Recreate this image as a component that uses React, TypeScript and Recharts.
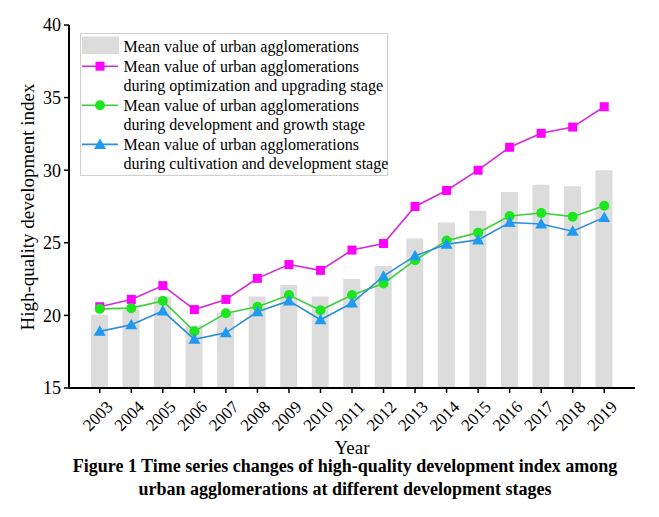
import React from 'react';
import { ComposedChart, Bar, Line, XAxis, YAxis } from 'recharts';

const years = ['2003', '2004', '2005', '2006', '2007', '2008', '2009', '2010', '2011', '2012', '2013', '2014', '2015', '2016', '2017', '2018', '2019'];
const meanAll = [20.05, 20.4, 21.3, 19.3, 20.2, 21.3, 22.1, 21.3, 22.5, 23.4, 25.3, 26.4, 27.2, 28.5, 29.0, 28.9, 30.0];
const optimization = [20.6, 21.1, 22.05, 20.4, 21.1, 22.55, 23.5, 23.1, 24.5, 24.95, 27.5, 28.6, 30.0, 31.58, 32.54, 32.97, 34.37];
const development = [20.45, 20.5, 21.0, 18.9, 20.15, 20.6, 21.4, 20.35, 21.4, 22.2, 23.8, 25.15, 25.7, 26.85, 27.05, 26.8, 27.55];
const cultivation = [18.9, 19.35, 20.3, 18.35, 18.8, 20.25, 21.0, 19.7, 20.85, 22.7, 24.1, 24.9, 25.2, 26.4, 26.3, 25.8, 26.75];
const yTicks = [15, 20, 25, 30, 35, 40];

const legendLines = [
  'Mean value of urban agglomerations',
  'Mean value of urban agglomerations',
  'during optimization and upgrading stage',
  'Mean value of urban agglomerations',
  'during development and growth stage',
  'Mean value of urban agglomerations',
  'during cultivation and development stage',
];

const yLabel = 'High-quality development index';
const xLabel = 'Year';
const caption1 = 'Figure 1 Time series changes of high-quality development index among';
const caption2 = 'urban agglomerations at different development stages';

const GRAY = '#dcdcdc';
const MAG_LINE = '#d62ad6';
const MAG = '#ff00ff';
const GRN_LINE = '#3ccf3c';
const GRN = '#1ee61e';
const BLU_LINE = '#2a8fd8';
const BLU = '#1e9bf0';

const data = years.map((y, i) => ({
  year: y,
  mean: meanAll[i],
  opt: optimization[i],
  dev: development[i],
  cul: cultivation[i],
}));

const FONT = "'Liberation Serif', 'Times New Roman', serif";

const SquareDot = (props: any) => {
  const { cx, cy } = props;
  if (cx == null || cy == null) return null;
  return <rect x={cx - 4.5} y={cy - 4.5} width={9} height={9} fill={MAG} />;
};
const CircleDot = (props: any) => {
  const { cx, cy } = props;
  if (cx == null || cy == null) return null;
  return <circle cx={cx} cy={cy} r={5} fill={GRN} />;
};
const TriDot = (props: any) => {
  const { cx, cy } = props;
  if (cx == null || cy == null) return null;
  return <polygon points={`${cx},${cy - 6} ${cx + 6},${cy + 4.5} ${cx - 6},${cy + 4.5}`} fill={BLU} />;
};

const XTick = (props: any) => {
  const { x, y, payload } = props;
  return (
    <g transform={`translate(${x - 2},${y + 21}) rotate(-45)`}>
      <text x={0} y={0} textAnchor="middle" dominantBaseline="central" fontSize={17} fill="#000" style={{ fontFamily: FONT }}>
        {payload.value}
      </text>
    </g>
  );
};

export default function App() {
  const rowY = [13.4, 33.2, 52.6, 72.2, 91.8, 111.4, 130.8];
  return (
    <div style={{ position: 'relative', width: 651, height: 509, fontFamily: FONT }}>
      <ComposedChart width={651} height={509} data={data} margin={{ top: 17, right: 24, left: 0, bottom: 69 }}>
        <XAxis
          dataKey="year"
          xAxisId="main"
          height={60}
          padding={{ left: 15, right: 15 }}
          tick={<XTick />}
          tickSize={5}
          tickMargin={2}
          axisLine={{ stroke: '#000', strokeWidth: 2 }}
          tickLine={{ stroke: '#000', strokeWidth: 1.5 }}
          interval={0}
        />
        <XAxis
          dataKey="year"
          xAxisId="top"
          orientation="top"
          height={0}
          tick={false}
          tickLine={false}
          axisLine={{ stroke: '#000', strokeWidth: 2 }}
        />
        <YAxis
          yAxisId="main"
          domain={[15, 40]}
          ticks={yTicks}
          width={61}
          tickSize={5}
          tickMargin={3}
          tick={{ fontSize: 18, fill: '#000', style: { fontFamily: FONT } }}
          axisLine={{ stroke: '#000', strokeWidth: 2 }}
          tickLine={{ stroke: '#000', strokeWidth: 1.5 }}
          allowDataOverflow
        />
        <YAxis
          yAxisId="right"
          orientation="right"
          width={0}
          tick={false}
          tickLine={false}
          axisLine={{ stroke: '#000', strokeWidth: 2 }}
        />
        <Bar dataKey="mean" xAxisId="main" yAxisId="main" fill={GRAY} barSize={17} isAnimationActive={false} />
        <Line dataKey="opt" xAxisId="main" yAxisId="main" stroke={MAG_LINE} strokeWidth={1.6} dot={<SquareDot />} activeDot={false} isAnimationActive={false} />
        <Line dataKey="dev" xAxisId="main" yAxisId="main" stroke={GRN_LINE} strokeWidth={1.6} dot={<CircleDot />} activeDot={false} isAnimationActive={false} />
        <Line dataKey="cul" xAxisId="main" yAxisId="main" stroke={BLU_LINE} strokeWidth={1.6} dot={<TriDot />} activeDot={false} isAnimationActive={false} />
      </ComposedChart>

      {/* Legend */}
      <svg
        width={309}
        height={144}
        style={{ position: 'absolute', left: 72, top: 25 }}
      >
        <rect x={0.5} y={0.5} width={307} height={142} fill="#fff" stroke="#cfcfcf" strokeWidth={1} />
        <rect x={2} y={3.5} width={37} height={17.5} fill={GRAY} />
        <line x1={2} x2={38} y1={rowY[1]} y2={rowY[1]} stroke={MAG_LINE} strokeWidth={1.6} />
        <rect x={15.5} y={rowY[1] - 4.5} width={9} height={9} fill={MAG} />
        <line x1={2} x2={38} y1={rowY[3]} y2={rowY[3]} stroke={GRN_LINE} strokeWidth={1.6} />
        <circle cx={20} cy={rowY[3]} r={5} fill={GRN} />
        <line x1={2} x2={38} y1={rowY[5]} y2={rowY[5]} stroke={BLU_LINE} strokeWidth={1.6} />
        <polygon points={`20,${rowY[5] - 6} 26,${rowY[5] + 4.5} 14,${rowY[5] + 4.5}`} fill={BLU} />
        {legendLines.map((t, i) => (
          <text key={i} x={43.5} y={rowY[i]} dominantBaseline="central" fontSize={16} fill="#000" style={{ fontFamily: FONT }}>
            {t}
          </text>
        ))}
      </svg>

      {/* Y axis label */}
      <div
        style={{
          position: 'absolute',
          left: 20 - 150,
          top: 199 - 12,
          width: 300,
          height: 24,
          lineHeight: '24px',
          textAlign: 'center',
          fontSize: 19,
          transform: 'rotate(-90deg)',
          color: '#000',
          whiteSpace: 'nowrap',
        }}
      >
        {yLabel}
      </div>

      {/* X axis label */}
      <div style={{ position: 'absolute', left: 244, top: 429, width: 200, textAlign: 'center', fontSize: 19, lineHeight: '22px', color: '#000' }}>
        {xLabel}
      </div>

      {/* Caption */}
      <div style={{ position: 'absolute', left: 0, top: 447, width: 674, textAlign: 'center', fontSize: 18, fontWeight: 'bold', lineHeight: '23px', color: '#000', whiteSpace: 'nowrap' }}>
        <div>{caption1}</div>
        <div>{caption2}</div>
      </div>
    </div>
  );
}
